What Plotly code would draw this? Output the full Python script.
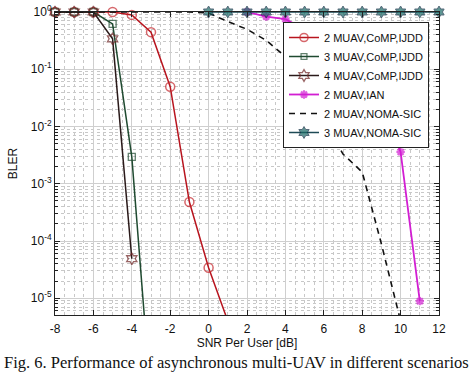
import numpy as np
import plotly.graph_objects as go

# ---------------- data ----------------
snr_2comp = [-8, -7, -6, -5, -4, -3, -2, -1, 0, 1]
bler_2comp = [1, 1, 1, 1, 0.89, 0.445, 0.0496, 4.8e-4, 3.4e-5, 4.0e-6]

snr_3comp = [-8, -7, -6, -5, -4, -3]
bler_3comp = [1, 1, 1, 0.62, 2.95e-3, 1.6e-7]

snr_4comp = [-8, -7, -6, -5, -4]
bler_4comp = [1, 1, 1, 0.34, 4.9e-5]

snr_ian = [2, 3, 4, 5, 6, 7, 8, 9, 10, 11]
bler_ian = [1, 0.83, 0.75, 0.5, 0.32, 0.16, 0.07, 0.024, 3.6e-3, 8.9e-6]

snr_noma2 = [-8, -7, -6, -5, -4, -3, -2, -1, 0, 1, 2, 3, 4, 5, 6, 7, 8, 9, 10]
bler_noma2 = [1, 1, 1, 1, 1, 1, 1, 1, 0.96, 0.68, 0.5, 0.32, 0.166, 0.05,
              0.0126, 3.3e-3, 1.6e-3, 8.9e-5, 4.0e-6]

snr_noma3 = [0, 1, 2, 3, 4, 5, 6, 7, 8, 9, 10, 11, 12]
bler_noma3 = [1, 1, 1, 1, 1, 1, 1, 1, 1, 1, 1, 1, 1]

names = ["2 MUAV,CoMP,IJDD", "3 MUAV,CoMP,IJDD", "4 MUAV,CoMP,IJDD",
         "2 MUAV,IAN", "2 MUAV,NOMA-SIC", "3 MUAV,NOMA-SIC"]

x_ticks = [-8, -6, -4, -2, 0, 2, 4, 6, 8, 10, 12]
y_tick_exps = [0, -1, -2, -3, -4, -5]
y_tick_labels = ["10<sup>0</sup>", "10<sup>-1</sup>", "10<sup>-2</sup>",
                 "10<sup>-3</sup>", "10<sup>-4</sup>", "10<sup>-5</sup>"]

X_MIN, X_MAX = -8, 12
Y_MIN, Y_MAX = 5.1e-6, 1.0

caption = "Fig. 6. Performance of asynchronous multi-UAV in different scenarios"

# ---------------- figure ----------------
def msizes(vals, s):
    return [s if Y_MIN <= v <= Y_MAX * 1.0001 else 0 for v in vals]

fig = go.Figure()

fig.add_trace(go.Scatter(
    x=snr_2comp, y=bler_2comp, name=names[0], mode="lines+markers",
    line=dict(color="#b8141e", width=1.5),
    marker=dict(symbol="circle-open", size=msizes(bler_2comp, 9),
                color="#c4262c", line=dict(width=1.5)),
    cliponaxis=False))

fig.add_trace(go.Scatter(
    x=snr_3comp, y=bler_3comp, name=names[1], mode="lines+markers",
    line=dict(color="#1f4a30", width=1.5),
    marker=dict(symbol="square-open", size=msizes(bler_3comp, 7),
                color="#1f4a30", line=dict(width=1.3)),
    cliponaxis=False))

fig.add_trace(go.Scatter(
    x=snr_4comp, y=bler_4comp, name=names[2], mode="lines+markers",
    line=dict(color="#2a1a1a", width=1.5),
    marker=dict(symbol="hexagram-open", size=msizes(bler_4comp, 9),
                color="#6e2424", line=dict(width=1.3)),
    cliponaxis=False))

fig.add_trace(go.Scatter(
    x=snr_ian, y=bler_ian, name=names[3], mode="lines+markers",
    line=dict(color="#d21ed2", width=1.8),
    marker=dict(symbol="asterisk-open", size=msizes(bler_ian, 7),
                color="#d21ed2", line=dict(width=2.2, color="#d21ed2")),
    cliponaxis=False))

fig.add_trace(go.Scatter(
    x=snr_noma2, y=bler_noma2, name=names[4], mode="lines",
    line=dict(color="#111111", width=1.6, dash="6px,5px"),
    cliponaxis=False))

fig.add_trace(go.Scatter(
    x=snr_noma3, y=bler_noma3, name=names[5], mode="lines+markers",
    line=dict(color="#1d4a55", width=1.5),
    marker=dict(symbol="hexagram", size=msizes(bler_noma3, 9),
                color="#1a6a66", line=dict(width=1, color="#0d2a40")),
    cliponaxis=False))

axis_font = dict(family="Liberation Sans, Arial, sans-serif", size=12, color="#111111")

fig.update_xaxes(
    range=[X_MIN, X_MAX], tickvals=x_ticks, ticktext=[str(v) for v in x_ticks],
    showline=True, linecolor="#222222", linewidth=1, mirror="allticks",
    ticks="inside", ticklen=5, tickcolor="#222222",
    showgrid=True, gridcolor="#cfcfcf", gridwidth=1,
    minor=dict(dtick=0.5, showgrid=True, gridcolor="#c8c8c8", griddash="dot",
               ticks="", gridwidth=1),
    zeroline=False, tickfont=axis_font, automargin=False, ticklabelstandoff=3,
    title=dict(text="SNR Per User [dB]", font=axis_font, standoff=0),
)

minor_vals = [m * 10.0 ** k for k in range(-6, 0) for m in range(2, 10)]

fig.update_yaxes(
    type="log", range=[np.log10(Y_MIN), np.log10(Y_MAX)],
    tickvals=[10.0 ** e for e in y_tick_exps], ticktext=y_tick_labels,
    showline=True, linecolor="#222222", linewidth=1, mirror="allticks",
    ticks="inside", ticklen=5, tickcolor="#222222",
    showgrid=True, gridcolor="#cfcfcf", gridwidth=1,
    minor=dict(tickvals=minor_vals, showgrid=True, gridcolor="#c8c8c8",
               griddash="dot", ticks="inside", ticklen=3, tickcolor="#222222"),
    zeroline=False, tickfont=axis_font, automargin=False,
    title=dict(text="BLER", font=axis_font, standoff=10),
)

fig.add_annotation(
    text=caption, xref="paper", yref="paper",
    x=(2 - 55) / 384, y=(315 - 362) / 303, xanchor="left", yanchor="middle",
    showarrow=False,
    font=dict(family="Liberation Serif, Times New Roman, serif", size=16.5, color="#111111"))

fig.update_layout(
    width=474, height=372,
    margin=dict(l=55, r=35, t=12, b=57),
    paper_bgcolor="white", plot_bgcolor="white",
    hovermode=False,
    showlegend=True,
    legend=dict(
        x=(429 - 55) / 384, y=(315 - 22) / 303, xanchor="right", yanchor="top",
        bgcolor="white", bordercolor="#222222", borderwidth=1,
        font=dict(family="Liberation Sans, Arial, sans-serif", size=11, color="#111111"),
        tracegroupgap=0, itemwidth=30,
    ),
)

fig.write_html("out.html",
               config={"displayModeBar": False, "staticPlot": True},
               post_script="document.body.style.margin='0';document.body.style.overflow='hidden';")
